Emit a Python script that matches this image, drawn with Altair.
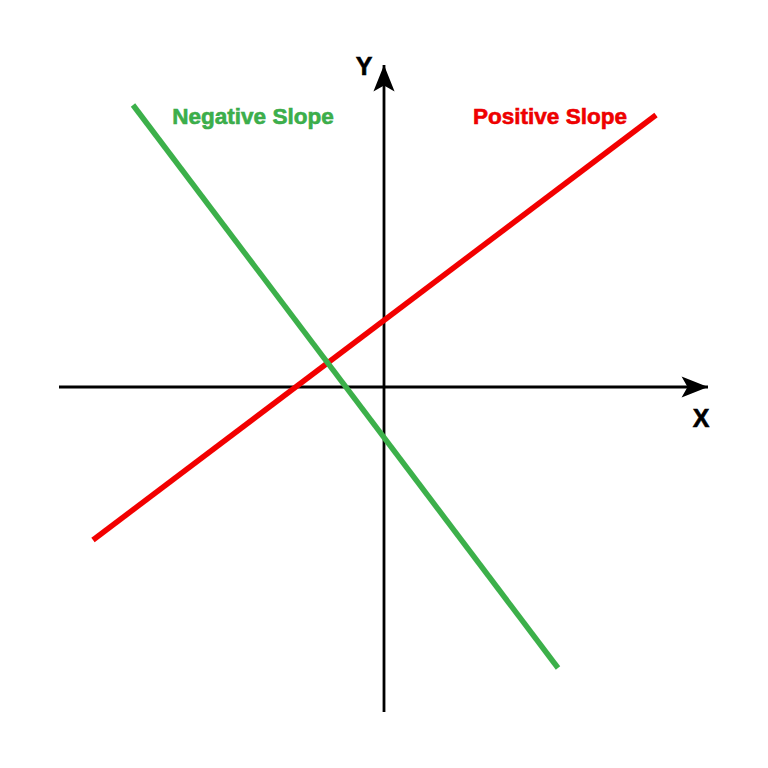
import altair as alt
import pandas as pd

# Line endpoints (data units, origin at axes crossing)
pos_x = [-7.275, 6.8]
pos_y = [-3.825, 6.8]
neg_x = [-6.275, 4.35]
neg_y = [7.05, -7.025]

# Axis extents
xaxis_x = [-8.125, 8.1]
yaxis_y = [-8.125, 8.05]

labels_text = ["Negative Slope", "Positive Slope"]
labels_x = [-3.275, 4.15]
labels_y = [6.75, 6.75]

xdom = [-9.4, 9.4]
ydom = [-9.325, 9.475]

xs = alt.Scale(domain=xdom, nice=False, zero=False)
ys = alt.Scale(domain=ydom, nice=False, zero=False)

lines = pd.DataFrame({
    "x": pos_x + neg_x,
    "y": pos_y + neg_y,
    "s": ["Positive Slope"] * 2 + ["Negative Slope"] * 2,
})
line_color = alt.Color("s:N", scale=alt.Scale(domain=["Negative Slope", "Positive Slope"],
                                              range=["#3cb04a", "#f20000"]), legend=None)
text_scale = alt.Scale(domain=["Negative Slope", "Positive Slope"], range=["#3aa84a", "#e60000"])

axes = pd.DataFrame({
    "x": [xaxis_x[0], xaxis_x[1], 0, 0],
    "y": [0, 0, yaxis_y[0], yaxis_y[1]],
    "a": ["x", "x", "y", "y"],
})

base_x = alt.X("x:Q", scale=xs, axis=None)
base_y = alt.Y("y:Q", scale=ys, axis=None)

axis_lines = alt.Chart(axes).mark_line(color="black", strokeWidth=2.8).encode(
    x=base_x, y=base_y, detail="a:N")

arrow_x = alt.Chart(pd.DataFrame({"x": [7.77], "y": [0]})).mark_point(
    shape="M1,0 L-1,-0.8 L-0.55,0 L-1,0.8 Z", filled=True, opacity=1,
    color="black", size=700).encode(x=base_x, y=base_y)
arrow_y = alt.Chart(pd.DataFrame({"x": [0], "y": [7.72]})).mark_point(
    shape="M0,-1 L-0.8,1 L0,0.55 L0.8,1 Z", filled=True, opacity=1,
    color="black", size=700).encode(x=base_x, y=base_y)

slope_lines = alt.Chart(lines).mark_line(strokeWidth=5.5).encode(
    x=base_x, y=base_y, color=line_color, detail="s:N")

labels = alt.Chart(pd.DataFrame({"x": labels_x, "y": labels_y, "s": labels_text})).mark_text(
    font="Liberation Sans", fontWeight="bold", fontSize=22.5, align="center", baseline="middle",
    strokeWidth=0.6
).encode(x=base_x, y=base_y, text="s:N",
         color=alt.Color("s:N", scale=text_scale, legend=None),
         stroke=alt.Stroke("s:N", scale=text_scale, legend=None))

axis_names = alt.Chart(pd.DataFrame({"x": [-0.5, 7.925], "y": [7.997, -0.8], "t": ["Y", "X"]})).mark_text(
    font="Liberation Sans", fontWeight="bold", fontSize=25, align="center", baseline="middle",
    color="black", stroke="black", strokeWidth=0.6).encode(x=base_x, y=base_y, text="t:N")

chart = alt.layer(axis_lines, slope_lines, arrow_x, arrow_y, labels, axis_names).properties(
    width=752, height=752, padding=0, autosize="none", background="white"
).configure_view(strokeWidth=0)

chart.save("out.html", embed_options={"renderer": "svg", "actions": False})
